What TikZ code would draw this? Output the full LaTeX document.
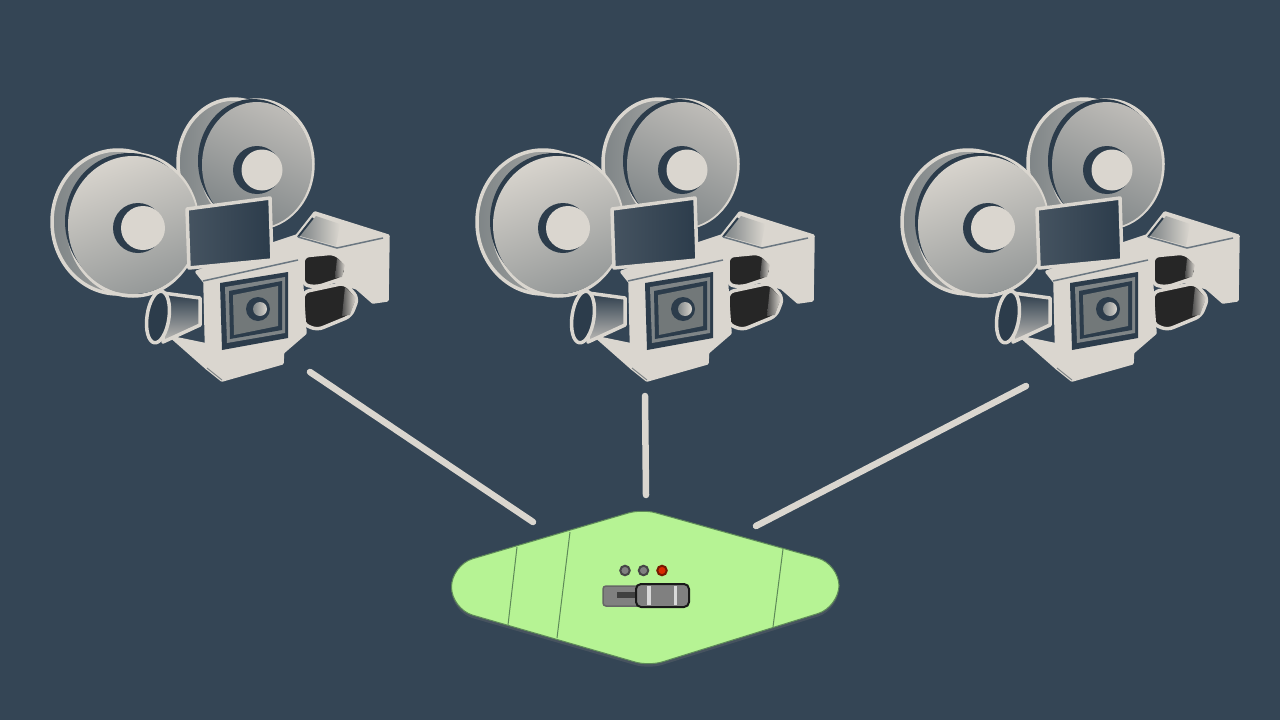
\documentclass[tikz,border=0pt]{standalone}
\usepackage{tikz}
\usetikzlibrary{shadows}
\definecolor{slate}{HTML}{344555}
\definecolor{bone}{HTML}{DAD6CF}
\definecolor{ink}{HTML}{2C3C4B}
\definecolor{steel}{HTML}{7F8587}
\definecolor{silver}{HTML}{BDBBB7}
\definecolor{padgreen}{HTML}{B6F394}
\definecolor{padline}{HTML}{5E8A58}
\tikzset{
  link/.style={line width=6.5pt,line cap=round,draw=bone},
  piece/.style={draw=bone,line width=3.5pt,line join=round},
  led/.style={circle,inner sep=0pt,minimum size=9.5pt,draw=#1!55!black,line width=2pt,fill=#1},
  camera/.pic={
    % back reel
    \draw[piece,left color=steel,right color=silver] (234,163) ellipse [x radius=56pt,y radius=64pt];
    \draw[piece] (257,164) ellipse [x radius=56pt,y radius=64pt];
    \fill[ink] (253,161) ellipse [x radius=55pt,y radius=62pt];
    \shade[top color=silver,bottom color=steel,shading angle=-25] (257,165) ellipse [x radius=55pt,y radius=63pt];
    \fill[ink] (257,170) circle (24pt);
    \fill[bone] (262,170) circle (20.5pt);
    % front reel
    \draw[piece,left color=steel,right color=silver] (118,222) ellipse [x radius=66pt,y radius=72pt];
    \draw[piece] (133,225) ellipse [x radius=65pt,y radius=71pt];
    \fill[ink] (129,221) ellipse [x radius=64pt,y radius=68pt];
    \shade[top color=bone!90!silver,bottom color=steel!75!bone,shading angle=20] (133,225) ellipse [x radius=65pt,y radius=69pt];
    \fill[ink] (138,228) circle (25pt);
    \fill[bone] (143,228) circle (22pt);
    % rear box
    \draw[piece,fill=bone] (273,244) -- (297,236) -- (315,213) -- (388,236) -- (387,300) -- (373,302) -- (357,288) -- (307,272) -- cycle;
    \shade[left color=steel,right color=bone] (300,236) -- (316,216) -- (340,224) -- (336,246) -- cycle;
    \draw[ink,line width=2pt] (298,237) -- (313,218);
    \draw[ink!70,line width=1.5pt] (298,237) -- (337,248) -- (383,238);
    % rear lenses
    \draw[piece,fill=black!85,rounded corners=6pt] (303,256) -- (335,253) -- (347,265) -- (344,278) -- (317,287) -- (303,285) -- cycle;
    \draw[piece,fill=black!85,rounded corners=6pt] (303,292) -- (345,283) -- (358,298) -- (351,316) -- (317,330) -- (303,324) -- cycle;
    \shade[left color=black!70,right color=bone] (337,258) -- (345,265) -- (342,277) -- (335,278) -- cycle;
    \shade[left color=black!70,right color=bone] (345,287) -- (356,298) -- (350,315) -- (342,316) -- cycle;
    % front lens
    \draw[piece,top color=ink,bottom color=silver] (163,293) -- (200,298) -- (200,325) -- (163,342) -- cycle;
    \draw[piece,fill=ink] (158,317) ellipse [x radius=11pt,y radius=26pt,rotate=-8];
    % base and body
    \draw[piece,fill=bone] (173,338) -- (207,368) -- (222,380) -- (282,363) -- (283,345) -- (207,345) -- cycle;
    \draw[piece,fill=bone] (197,272) -- (273,245) -- (300,260) -- (305,333) -- (283,352) -- (207,368) -- (205,282) -- cycle;
    \draw[ink!70,line width=1.5pt] (203,281) -- (298,260);
    \draw[steel,line width=1pt] (207,368) -- (222,380);
    % front panel
    \fill[ink] (220,283) -- (288,272) -- (288,338) -- (222,350) -- cycle;
    \fill[steel] (225,287) -- (285,277) -- (285,333) -- (227,343) -- cycle;
    \fill[ink] (229,291) -- (282,281) -- (282,330) -- (230,339) -- cycle;
    \fill[steel!90!black] (233,295) -- (278,286) -- (278,326) -- (234,335) -- cycle;
    \fill[ink] (258,309) circle (12pt);
    \shade[left color=steel,right color=bone] (260,309) circle (7pt);
    % screen
    \draw[piece,left color=ink!88!white,right color=ink] (187,209) -- (270,198) -- (272,260) -- (189,268) -- cycle;
  }
}
\begin{document}
\begin{tikzpicture}[x=1pt,y=-1pt]
\fill[slate] (0,0) rectangle (1280,720);
\useasboundingbox (0,0) rectangle (1280,720);

\draw (0,0) pic (camleft) {camera};
\draw (425,0) pic (cammid) {camera};
\draw (850,0) pic (camright) {camera};

% switch pad
\draw[draw=padline,line width=1pt,fill=padgreen,drop shadow={opacity=0.25,shadow xshift=0pt,shadow yshift=-3pt}]
  (451.5,587) [rounded corners=22pt] -- (451.5,565) [rounded corners=14pt] -- (642,509) [rounded corners=22pt] -- (839,564) -- (839,607) [rounded corners=14pt] -- (649,666) [rounded corners=22pt] -- (451.5,609) [sharp corners] -- cycle;
\draw[padline,line width=1pt] (517,547) -- (508,625);
\draw[padline,line width=1pt] (570,532) -- (557,638);
\draw[padline,line width=1pt] (783,549) -- (773,627);

\draw (625,570.5) node[led=gray] (ledone) {};
\draw (643.5,570.5) node[led=gray] (ledtwo) {};
\draw (662,570.5) node[led=red!60!orange!85!black] (ledthree) {};

\draw[draw=black!60,line width=1.5pt,fill=gray,rounded corners=3pt] (603,586) rectangle (640,606);
\fill[black!75] (617,592) rectangle (637,598);
\draw[draw=black!90,line width=2pt,fill=gray,rounded corners=5pt] (636,584) rectangle (689,607);
\fill[white!70!gray] (647,586) rectangle (651,605);
\fill[white!70!gray] (674,586) rectangle (677,605);

% links
\draw (310,372) coordinate (fromleft);
\draw (533,522) coordinate (toleft);
\draw (645,396) coordinate (frommid);
\draw (646,495) coordinate (tomid);
\draw (1026,386) coordinate (fromright);
\draw (756,526) coordinate (toright);

\path[link] (fromleft) edge (toleft);
\path[link] (frommid) edge (tomid);
\path[link] (fromright) edge (toright);
\end{tikzpicture}
\end{document}
